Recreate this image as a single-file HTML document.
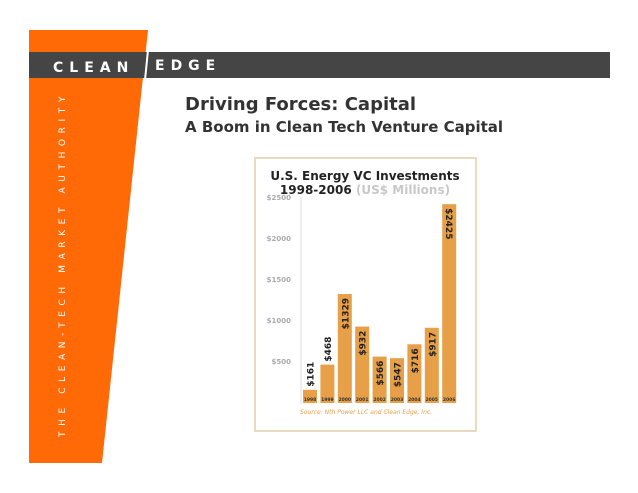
<!DOCTYPE html>
<html><head><meta charset="utf-8"><style>
body{margin:0;width:638px;height:493px;background:#fff;overflow:hidden;font-family:"DejaVu Sans","Liberation Sans",sans-serif;position:relative}
.abs{position:absolute}
</style></head><body>
<svg class="abs" style="left:0;top:0" width="638" height="493">
<polygon points="29,30 148,30 102,463 29,463" fill="#ff6a06"/>
<rect x="29" y="52" width="581" height="26" fill="#454545"/>
<line x1="148" y1="50" x2="145" y2="80" stroke="#fff" stroke-width="2"/>
<text x="53" y="72" fill="#fff" font-family="DejaVu Sans" font-size="14" font-weight="bold" letter-spacing="6">CLEAN</text>
<text x="155" y="70" fill="#fff" font-family="DejaVu Sans" font-size="14" font-weight="bold" letter-spacing="6">EDGE</text>
<text transform="translate(65,437) rotate(-90)" fill="#fff" font-family="DejaVu Sans" font-size="9" letter-spacing="5.6">THE CLEAN-TECH MARKET AUTHORITY</text>
<text x="185" y="110" fill="#333" font-family="DejaVu Sans" font-size="18" font-weight="bold">Driving Forces: Capital</text>
<text x="185" y="132" fill="#333" font-family="DejaVu Sans" font-size="15" font-weight="bold">A Boom in Clean Tech Venture Capital</text>
<rect x="255" y="158" width="221" height="273" fill="#fff" stroke="#e8d9bf" stroke-width="2"/>
<text x="365" y="180" text-anchor="middle" fill="#222" font-family="DejaVu Sans" font-size="12" font-weight="bold">U.S. Energy VC Investments</text>
<text x="365" y="194" text-anchor="middle" fill="#222" font-family="DejaVu Sans" font-size="12" font-weight="bold">1998-2006 <tspan fill="#c8c8c8">(US$ Millions)</tspan></text>
<g id="chart"></g>
<text x="300" y="414" fill="#e8a050" font-family="DejaVu Sans" font-size="6" font-style="italic">Source: Nth Power LLC and Clean Edge, Inc.</text>
</svg>
<script>
const years=["1998","1999","2000","2001","2002","2003","2004","2005","2006"];
const values=[161,468,1329,932,566,547,716,917,2425];
const labels=["$161","$468","$1329","$932","$566","$547","$716","$917","$2425"];
const ticks=[500,1000,1500,2000,2500];
const NS="http://www.w3.org/2000/svg";
const g=document.getElementById('chart');
const y0=403,yScale=v=>y0-v*(164/2000);
const xOf=i=>303+i*17.4;
function el(t,a){const e=document.createElementNS(NS,t);for(const k in a)e.setAttribute(k,a[k]);g.appendChild(e);return e;}
const ax=el('line',{x1:301,y1:197,x2:301,y2:404,stroke:'#ddd','stroke-width':1});


ticks.forEach(t=>{const tx=el('text',{x:291,y:yScale(t)+2,'text-anchor':'end',fill:'#aaa','font-size':7,'font-family':'DejaVu Sans','font-weight':'bold'});tx.textContent='$'+t;

});
values.forEach((v,i)=>{
const b=el('rect',{x:xOf(i),y:yScale(v),width:14,height:y0-yScale(v),fill:'#e8a048'});


const yl=el('text',{x:xOf(i)+7,y:401,'text-anchor':'middle',fill:'#333','font-size':4.5,'font-family':'DejaVu Sans','font-weight':'bold'});yl.textContent=years[i];


const vl=el('text',{fill:'#222','font-size':9,'font-family':'DejaVu Sans','font-weight':'bold'});
vl.textContent=labels[i];


const cx=xOf(i)+10.5;
if(v<500){vl.setAttribute('text-anchor','start');vl.setAttribute('transform',`translate(${cx},${yScale(v)-3}) rotate(-90)`);}
else if(v>2000){vl.setAttribute('text-anchor','start');vl.setAttribute('transform',`translate(${xOf(i)+4},${yScale(v)+4}) rotate(90)`);}
else{vl.setAttribute('text-anchor','end');vl.setAttribute('transform',`translate(${cx},${yScale(v)+4}) rotate(-90)`);}
});
</script>
</body></html>
